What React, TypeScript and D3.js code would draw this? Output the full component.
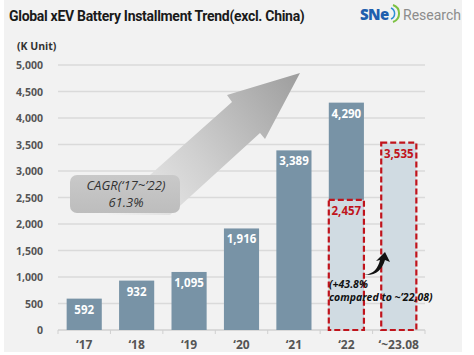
import React from "react";
import * as d3 from "d3";

const categories = ["‘17", "‘18", "‘19", "‘20", "‘21", "‘22", "‘~23.08"];
const totals = [592, 932, 1095, 1916, 3389, 4290, 3535];
const partialValues = [0, 0, 0, 0, 0, 2457, 0];
const highlighted = [false, false, false, false, false, false, true];
const yTicks = [0, 500, 1000, 1500, 2000, 2500, 3000, 3500, 4000, 4500, 5000];

const W = 474, H = 355;
const FONT = "'Open Sans', 'Noto Sans', sans-serif";

export default function App() {
  const x = d3.scaleBand<string>().domain(categories).range([58, 425]).paddingInner(0.33).paddingOuter(0.165);
  const y = d3.scaleLinear().domain([0, 5000]).range([330, 65]);
  const fmt = d3.format(",");
  const bw = x.bandwidth();
  const step = x.step();
  const darkBar = "#7893a6";
  const lightBar = "#d0dbe2";
  const red = "#c0141c";

  const arrowPts = [
    [300, 73], [265, 139], [260, 133], [170, 215], [105, 215], [232, 102], [227, 95],
  ];

  return (
    <svg width={W} height={H} style={{ position: "absolute", left: 0, top: 0, display: "block" }}>
      <defs>
        <linearGradient id="arrowGrad" x1="105" y1="215" x2="300" y2="73" gradientUnits="userSpaceOnUse">
          <stop offset="0" stopColor="#f2f2f2" stopOpacity="1" />
          <stop offset="0.45" stopColor="#d0d0d0" />
          <stop offset="1" stopColor="#9d9d9d" />
        </linearGradient>
        <linearGradient id="boxGrad" x1="0" y1="0" x2="0" y2="1">
          <stop offset="0" stopColor="#c9c9c9" />
          <stop offset="1" stopColor="#bdbdbd" />
        </linearGradient>
      </defs>
      <rect x={0} y={0} width={W} height={H} fill="#ffffff" />
      <rect x={4} y={0} width={458} height={352} fill="#f2f2f2" />

      <text x={9} y={21} fontFamily="Roboto, 'Noto Sans', sans-serif" fontWeight={700} fontSize={14} letterSpacing={-0.3} fill="#1a1a1a">
        Global xEV Battery Installment Trend(excl. China)
      </text>
      <text x={360} y={20} fontFamily={FONT} fontWeight={800} fontSize={15} fill="#1f5fae" letterSpacing={-0.6}>SNe</text>
      <path d="M393,5 A9,9 0 0 1 393,22" fill="none" stroke="#7cc142" strokeWidth={2} />
      <path d="M391,8 A6,6 0 0 1 391,19" fill="none" stroke="#2c8fd6" strokeWidth={1.5} />
      <text x={403} y={20} fontFamily="Roboto, sans-serif" fontSize={14} fill="#8c8c8c">Research</text>

      <text x={17} y={50} fontFamily={FONT} fontWeight={700} fontSize={10.5} fill="#333">(K Unit)</text>

      {yTicks.map((t) => (
        <g key={t}>
          {t > 0 && <line x1={58} x2={425} y1={y(t)} y2={y(t)} stroke="#dadada" strokeWidth={1.3} />}
          <text x={43} y={y(t) + 4} textAnchor="end" fontFamily={FONT} fontWeight={700} fontSize={10.5} fill="#555">
            {fmt(t)}
          </text>
        </g>
      ))}
      <line x1={58} x2={425} y1={y(0)} y2={y(0)} stroke="#d0d0d0" strokeWidth={1.3} />
      {d3.range(categories.length + 1).map((i) => (
        <line key={i} x1={58 + i * step} x2={58 + i * step} y1={y(0)} y2={y(0) + 4} stroke="#d0d0d0" strokeWidth={1} />
      ))}
      {categories.map((c) => (
        <text key={c} x={x(c)! + bw / 2} y={349} textAnchor="middle" fontFamily={FONT} fontWeight={700} fontSize={12} fill="#555">
          {c}
        </text>
      ))}

      <polygon points={arrowPts.map((p) => p.join(",")).join(" ")} fill="url(#arrowGrad)" />

      {categories.map((c, i) => {
        const bx = x(c)!;
        const top = y(totals[i]);
        const p = partialValues[i];
        return (
          <g key={c}>
            <rect x={bx} y={top} width={bw} height={y(0) - top} fill={highlighted[i] ? lightBar : darkBar} />
            {p > 0 && <rect x={bx} y={y(p)} width={bw} height={y(0) - y(p)} fill={lightBar} />}
            {p > 0 && (
              <rect x={bx} y={y(p)} width={bw} height={y(0) - y(p)} fill="none" stroke={red} strokeWidth={2.2} strokeDasharray="6,3" />
            )}
            {highlighted[i] && (
              <rect x={bx} y={top} width={bw} height={y(0) - top} fill="none" stroke={red} strokeWidth={2.2} strokeDasharray="6,3" />
            )}
            <text x={bx + bw / 2} y={top + 15} textAnchor="middle" fontFamily={FONT} fontWeight={700} fontSize={11.5}
              fill={highlighted[i] ? red : "#ffffff"}>
              {fmt(totals[i])}
            </text>
            {p > 0 && (
              <text x={bx + bw / 2} y={y(p) + 15} textAnchor="middle" fontFamily={FONT} fontWeight={700} fontSize={11.5} fill={red}>
                {fmt(p)}
              </text>
            )}
          </g>
        );
      })}

      <rect x={70} y={175} width={110} height={38} rx={7} fill="url(#boxGrad)" />
      <text x={126} y={190} textAnchor="middle" fontFamily={FONT} fontStyle="italic" fontWeight={500} fontSize={13} fill="#333">CAGR(‘17~’22)</text>
      <text x={126} y={207} textAnchor="middle" fontFamily={FONT} fontStyle="italic" fontWeight={500} fontSize={13} fill="#333">61.3%</text>

      <path d="M364,275 C374,274 378,268 380,260 L376,261 L385,252 L390,262 L385,260 C382,270 376,276 364,275 Z" fill="#111" />
      <text x={329} y={288} fontFamily={FONT} fontStyle="italic" fontWeight={700} fontSize={10.5} fill="#111">(+43.8%</text>
      <text x={329} y={301} fontFamily={FONT} fontStyle="italic" fontWeight={700} fontSize={10.5} fill="#111">compared to ~’22,08)</text>
    </svg>
  );
}
